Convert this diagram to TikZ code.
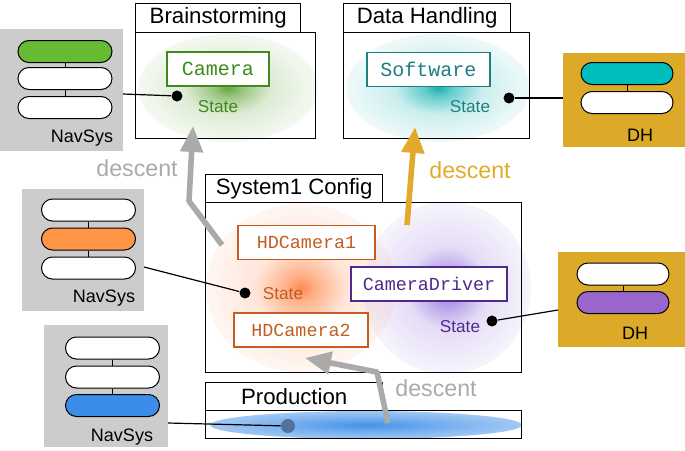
\documentclass[tikz,border=0pt]{standalone}
\usepackage{fontspec}
\setmainfont{Liberation Sans}
\setmonofont{Liberation Mono}
\usetikzlibrary{arrows.meta,fadings,positioning}

\definecolor{navgray}{HTML}{CCCCCC}
\definecolor{dhgold}{HTML}{DCAA28}
\definecolor{camgreen}{HTML}{3E8A1E}
\definecolor{pillgreen}{HTML}{66BB33}
\definecolor{softteal}{HTML}{1F7F80}
\definecolor{pillteal}{HTML}{00BDBD}
\definecolor{hdorange}{HTML}{C25E22}
\definecolor{pillorange}{HTML}{FF9548}
\definecolor{drvpurple}{HTML}{4F2A8A}
\definecolor{pillpurple}{HTML}{9966CC}
\definecolor{pillblue}{HTML}{3B8DE8}
\definecolor{portblue}{HTML}{52729C}
\definecolor{arrowgray}{HTML}{AAAAAA}
\definecolor{arrowgold}{HTML}{E2AA2A}

\pgfdeclareradialshading{glowshade}{\pgfpoint{0bp}{0bp}}{rgb(0bp)=(0.9,0.9,0.9); rgb(4bp)=(0.6,0.6,0.6); rgb(12bp)=(0.2,0.2,0.2); rgb(24bp)=(0.07,0.07,0.07); rgb(40bp)=(0.035,0.035,0.035); rgb(50bp)=(0,0,0)}
\pgfdeclarefading{glowfade}{\pgfuseshading{glowshade}}
\pgfdeclareradialshading{barshade}{\pgfpoint{0bp}{0bp}}{rgb(0bp)=(0.95,0.95,0.95); rgb(15bp)=(0.65,0.65,0.65); rgb(35bp)=(0.3,0.3,0.3); rgb(50bp)=(0.05,0.05,0.05)}
\pgfdeclarefading{barfade}{\pgfuseshading{barshade}}

\tikzset{
  tab/.style={draw, fill=white, line width=0.7pt, inner sep=0pt, anchor=north west, font=\fontsize{11.1}{13}\selectfont},
  frame/.style={draw, line width=0.7pt, inner sep=0pt, anchor=north west},
  item/.style={draw, fill=white, line width=0.6pt, inner sep=0pt, minimum height=17pt},
  pill/.style={draw, fill=white, line width=0.5pt, rounded corners=5.5pt, inner sep=0pt, minimum width=47pt, minimum height=11pt},
  navbox/.style={fill=navgray, inner sep=0pt},
  dhbox/.style={fill=dhgold, inner sep=0pt},
  boxlabel/.style={inner sep=0pt, font=\fontsize{9}{11}\selectfont},
  state/.style={inner sep=0pt, font=\fontsize{8.6}{10}\selectfont},
  port/.style={circle, fill=black, inner sep=0pt, minimum size=5.5pt},
  link/.style={line width=0.6pt},
  descent/.style={line width=2.8pt, line join=round, -{Triangle[length=13pt,width=11pt]}},
  desclabel/.style={inner sep=0pt, font=\fontsize{11.6}{13}\selectfont}
}

\begin{document}
\begin{tikzpicture}[x=0.5pt,y=-0.5pt]
\useasboundingbox (0,0) rectangle (685,450);

% Halos
\fill[pillgreen!85!black, path fading=glowfade] (228,88) ellipse (45pt and 27pt);
\fill[pillteal!90!black, path fading=glowfade] (438,88) ellipse (46pt and 27pt);
\fill[pillorange!85!red, path fading=glowfade] (301,288) ellipse (47.5pt and 42pt);
\fill[pillpurple!80!blue, path fading=glowfade] (447,288) ellipse (42pt and 43pt);
\fill[pillblue, path fading=barfade] (366,425) ellipse (78pt and 7pt);

% Cadres
\node[tab, minimum width=82.5pt, minimum height=14.5pt] (bsTab) at (135,3) {Brainstorming};
\node[frame, minimum width=90pt, minimum height=53pt] (bsBody) at (135,32) {};
\node[tab, minimum width=83.5pt, minimum height=14.5pt] (dhTab) at (343,3) {Data Handling};
\node[frame, minimum width=93pt, minimum height=53pt] (dhBody) at (343,32) {};
\node[tab, minimum width=88.5pt, minimum height=14pt] (cfgTab) at (205,174) {System1 Config};
\node[frame, minimum width=158pt, minimum height=85pt] (cfgBody) at (205,202) {};
\node[tab, minimum width=88.5pt, minimum height=14pt] (prodTab) at (205,382) {Production};
\node[frame, minimum width=158pt, minimum height=14pt] (prodBody) at (205,410) {};

% Composants
\node[item, draw=camgreen, text=camgreen, minimum width=51pt, font=\ttfamily\fontsize{10}{12}\selectfont] (camera) at (218,69) {Camera};
\node[item, draw=softteal, text=softteal, minimum width=61.5pt, font=\ttfamily\fontsize{10}{12}\selectfont] (software) at (428.5,69.5) {Software};
\node[item, draw=hdorange, text=hdorange, minimum width=68.5pt, font=\ttfamily\fontsize{9.2}{11}\selectfont] (hdcamA) at (306.5,242.5) {HDCamera1};
\node[item, draw=hdorange, text=hdorange, minimum width=67pt, font=\ttfamily\fontsize{9.2}{11}\selectfont] (hdcamB) at (301,330) {HDCamera2};
\node[item, draw=drvpurple, text=drvpurple, minimum width=78pt, font=\ttfamily\fontsize{9.2}{11}\selectfont] (driver) at (429,284) {CameraDriver};

% Etats
\node[state, text=camgreen] (bsState) at (218,107) {State};
\node[state, text=softteal] (dhState) at (470,107) {State};
\node[state, text=hdorange] (cfgStateA) at (283,294) {State};
\node[state, text=drvpurple] (cfgStateB) at (460,327) {State};
\node[inner sep=0pt, text=portblue!80, font=\fontsize{6}{7}\selectfont] (prodState) at (363,429) {...};

\node[port] (bsPort) at (177,96) {};
\node[port] (dhPort) at (509,98) {};
\node[port] (cfgPortA) at (245,293) {};
\node[port] (cfgPortB) at (492,321) {};
\node[port, fill=portblue, minimum size=7pt] (prodPort) at (288,426) {};

% NavSys
\node[navbox, minimum width=61.5pt, minimum height=61pt] (navA) at (61.5,90) {};
\node[pill, fill=pillgreen] (navA1) at (65,51.5) {};
\node[pill] (navA2) at (65,78.5) {};
\node[pill] (navA3) at (65,107.5) {};
\node[boxlabel] (navAlbl) at (82,138) {NavSys};

\node[navbox, minimum width=61pt, minimum height=61pt] (navB) at (83,250) {};
\node[pill] (navB1) at (88.5,210) {};
\node[pill, fill=pillorange] (navB2) at (88.5,239) {};
\node[pill] (navB3) at (88.5,268) {};
\node[boxlabel] (navBlbl) at (104,298) {NavSys};

\node[navbox, minimum width=62pt, minimum height=61pt] (navC) at (106,386) {};
\node[pill] (navC1) at (112.5,348) {};
\node[pill] (navC2) at (112.5,377) {};
\node[pill, fill=pillblue] (navC3) at (112.5,405.5) {};
\node[boxlabel] (navClbl) at (122,437) {NavSys};

% DH
\node[dhbox, minimum width=61pt, minimum height=47pt] (dhA) at (624,100) {};
\node[pill, fill=pillteal, minimum width=46pt] (dhA1) at (627,73.5) {};
\node[pill, minimum width=46pt] (dhA2) at (627,102.5) {};
\node[boxlabel] (dhAlbl) at (640,135) {DH};

\node[dhbox, minimum width=63.5pt, minimum height=47.5pt] (dhB) at (621.5,299.5) {};
\node[pill, minimum width=46pt] (dhB1) at (623,274) {};
\node[pill, fill=pillpurple, minimum width=46pt] (dhB2) at (623,302.5) {};
\node[boxlabel] (dhBlbl) at (635,333) {DH};

% Liens
\draw[line width=0.5pt] (navA1) -- (navA2);
\draw[line width=0.5pt] (navA2) -- (navA3);
\draw[line width=0.5pt] (navB1) -- (navB2);
\draw[line width=0.5pt] (navB2) -- (navB3);
\draw[line width=0.5pt] (navC1) -- (navC2);
\draw[line width=0.5pt] (navC2) -- (navC3);
\draw[line width=0.5pt] (dhA1) -- (dhA2);
\draw[line width=0.5pt] (dhB1) -- (dhB2);

\coordinate (navAout) at (123,94);
\coordinate (navBout) at (144,267);
\coordinate (navCout) at (168,423);
\coordinate (dhAin) at (563,98);
\coordinate (dhBin) at (558,310);
\draw[link] (navAout) -- (bsPort);
\draw[link] (navBout) -- (cfgPortA);
\draw[link] (navCout) -- (prodPort);
\draw[link] (dhPort) -- (dhAin);
\draw[link] (cfgPortB) -- (dhBin);

% Descentes
\coordinate (dA0) at (222,245);
\coordinate (dA1) at (189,201);
\coordinate (dA2) at (193,126);
\draw[descent, arrowgray] (dA0) -- (dA1) -- (dA2);
\node[desclabel, text=arrowgray] (dAlbl) at (137,168) {descent};

\coordinate (dB0) at (407,225);
\coordinate (dB1) at (415,127);
\draw[descent, arrowgold] (dB0) -- (dB1);
\node[desclabel, text=arrowgold] (dBlbl) at (470,170) {descent};

\coordinate (dC0) at (388,423);
\coordinate (dC1) at (377,372);
\coordinate (dC2) at (305,358);
\draw[descent, arrowgray] (dC0) -- (dC1) -- (dC2);
\node[desclabel, text=arrowgray] (dClbl) at (436,388) {descent};

\end{tikzpicture}
\end{document}
